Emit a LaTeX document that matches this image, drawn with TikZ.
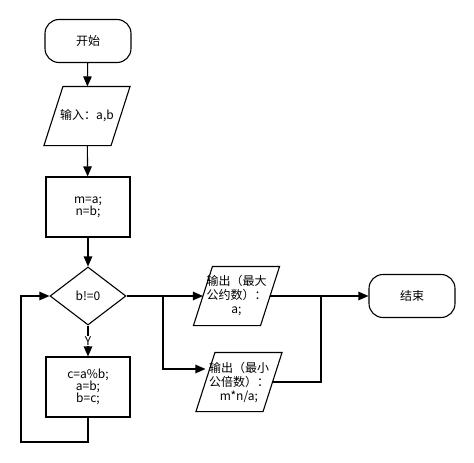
\documentclass[tikz,border=0pt]{standalone}
\usepackage{fontspec}
\setmainfont{Noto Sans CJK SC}
\usetikzlibrary{shapes.geometric,arrows.meta}
\begin{document}
\begin{tikzpicture}[x=1pt,y=-1pt,line width=1.1pt,font=\fontsize{12}{14}\selectfont,
  term/.style={draw,rounded corners=14pt,minimum width=86pt,minimum height=43pt},
  io/.style={minimum width=66pt,minimum height=58pt,inner sep=0pt,align=center},
  proc/.style={draw,minimum width=84pt,minimum height=60pt,align=center,font=\fontsize{12}{12}\selectfont},
  decide/.style={draw,diamond,minimum width=76pt,minimum height=58pt,inner sep=0pt},
  flow/.style={-{Triangle[length=10pt,width=8.5pt]}}]
\useasboundingbox (0,0) rectangle (474,463);
\node[term] (start) at (88,41) {开始};
\node[io] (input) at (87,116) {输入：a,b};
\node[proc] (init) at (88,207) {m=a;\\n=b;};
\node[decide] (cond) at (88,296) {b!=0};
\node[proc] (body) at (88,387) {c=a\%b;\\a=b;\\b=c;};
\node[io] (out1) at (236.5,296) {输出（最大\\公约数）：\\a;};
\node[io] (out2) at (239,382) {输出（最小\\公倍数）：\\m*n/a;};
\node[term] (stop) at (412,296) {结束};
\coordinate (loop) at (21,442);
\coordinate (split) at (163,296);
\coordinate (merge) at (321,296);
\foreach \n in {input,out1,out2}
  \draw ([xshift=9.5]\n.north west) -- ([xshift=9.5]\n.north east) -- ([xshift=-9.5]\n.south east) -- ([xshift=-9.5]\n.south west) -- cycle;
\draw[flow] (start) -- (input);
\draw[flow] (input) -- (init);
\draw[flow] (init) -- (cond);
\draw[flow] (cond) -- node[fill=white,inner sep=1pt] (yes) {Y} (body);
\draw[flow] (body.south) |- (loop) |- (cond.west);
\draw[flow] (cond.east) -- (out1.west);
\draw[flow] (split) |- ([yshift=13]out2.west);
\draw[flow] (out1.east) -- (stop.west);
\draw (out2.east) -| (merge);
\end{tikzpicture}
\end{document}
